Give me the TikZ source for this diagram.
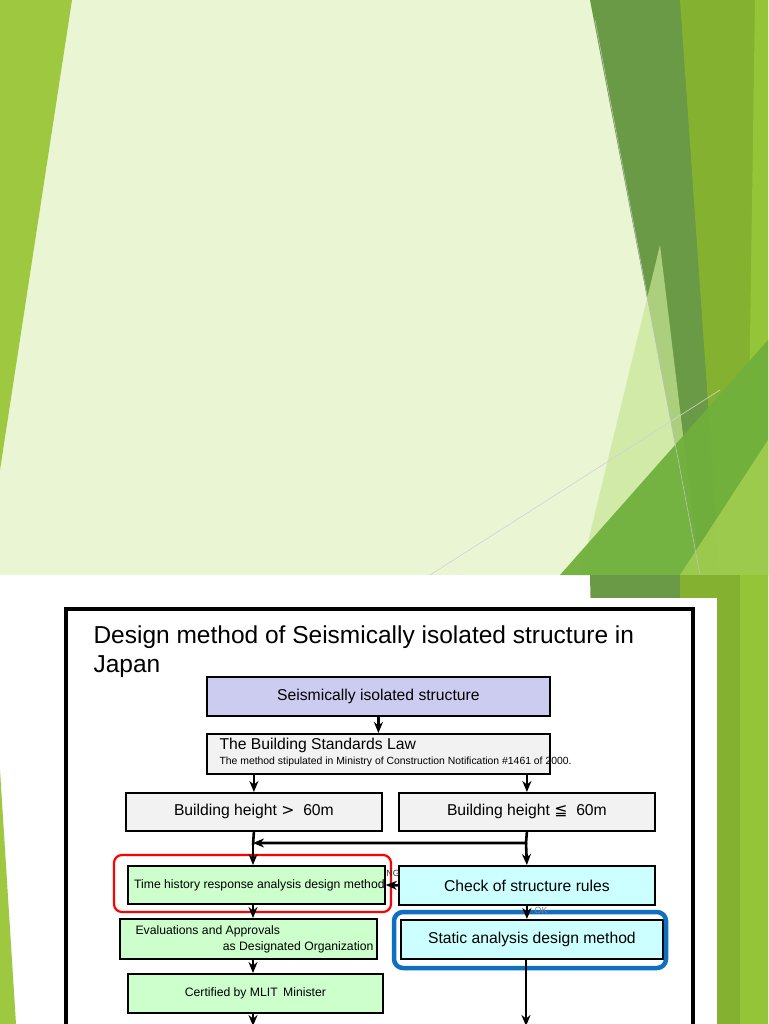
\documentclass[tikz,border=0pt]{standalone}
\usepackage{fontspec}
\setmainfont{Liberation Sans}
\newfontfamily\dv{DejaVu Sans}
\usetikzlibrary{arrows.meta}
\definecolor{bgl}{RGB}{233,245,211}
\definecolor{gA}{RGB}{157,200,64}
\definecolor{gDark}{RGB}{106,154,69}
\definecolor{gMid}{RGB}{132,178,48}
\definecolor{gBr}{RGB}{148,197,56}
\definecolor{gPale}{RGB}{200,230,150}
\definecolor{gTri}{RGB}{112,176,60}
\definecolor{gTri2}{RGB}{160,205,80}
\definecolor{cPur}{RGB}{204,204,240}
\definecolor{cGry}{RGB}{242,242,242}
\definecolor{cGrn}{RGB}{204,255,204}
\definecolor{cCy}{RGB}{204,255,255}
\definecolor{cBlu}{RGB}{16,112,192}
\begin{document}
\begin{tikzpicture}[x=1pt,y=-1pt,
  bx/.style={draw=black,line width=1.8pt,anchor=north west,inner sep=0pt},
  big/.style={font=\fontsize{15.7}{18}\selectfont},
  sml/.style={font=\fontsize{12.2}{14}\selectfont},
  arr/.style={-{Stealth[length=11pt,width=9pt]},line width=2.6pt}]
\useasboundingbox (0,0) rectangle (768,1024);
% background top
\fill[bgl] (0,0) rectangle (768,575);
\fill[white] (0,575) rectangle (768,1024);
\fill[gA] (0,0) -- (72,0) -- (0,470) -- cycle;
\fill[gA] (0,770) -- (16,1024) -- (0,1024) -- cycle;
% right decorations
\fill[gDark] (590,0) -- (690,0) -- (720,575) -- (700,575) -- cycle;
\fill[gMid] (680,0) -- (768,0) -- (768,1024) -- (720,1024) -- (720,575) -- cycle;
\fill[gBr] (755,0) -- (768,0) -- (768,1024) -- (740,1024) -- cycle;
\fill[gPale,opacity=0.7] (660,245) -- (700,575) -- (580,575) -- cycle;
\fill[gTri,opacity=0.95] (560,575) -- (768,340) -- (768,575) -- cycle;
\fill[gTri2,opacity=0.9] (680,575) -- (768,440) -- (768,575) -- cycle;
\draw[gray!50,line width=0.6pt] (595,20) -- (700,575);
\draw[gray!35,line width=0.6pt] (430,575) -- (720,390);
% bottom right strip
\fill[gDark] (590,575) -- (680,575) -- (680,1024) -- (600,1024) -- cycle;
\fill[gMid] (680,575) -- (740,575) -- (740,1024) -- (680,1024) -- cycle;
\fill[gBr] (740,575) -- (768,575) -- (768,1024) -- (740,1024) -- cycle;
\fill[white] (60,598) rectangle (717,1024);
% frame
\draw[line width=3.5pt] (66,1030) -- (66,609) -- (693,609) -- (693,1030);
\node[anchor=west,font=\fontsize{24.5}{29}\selectfont,align=left] (title) at (90,652) {Design method of Seismically isolated structure in\\Japan};
% boxes
\node[bx,fill=cPur,minimum width=343pt,minimum height=39pt,big] (s) at (206,676) {Seismically isolated structure};
\node[bx,fill=cGry,minimum width=343pt,minimum height=40pt] (b) at (206,733) {};
\node[anchor=west,big] (bt) at (216,745) {The Building Standards Law};
\node[anchor=west,font=\fontsize{10.4}{12}\selectfont] (bs) at (216,762) {The method stipulated in Ministry of Construction Notification \#1461 of 2000.};
\node[bx,fill=cGry,minimum width=256pt,minimum height=38pt,big] (h1) at (125,792) {Building height {\dv >}\; 60m};
\node[bx,fill=cGry,minimum width=256pt,minimum height=38pt,big] (h2) at (398,792) {Building height {\dv ≦}\; 60m};
\node[bx,fill=cGrn,minimum width=257pt,minimum height=38pt,sml] (t) at (127,865) {\hspace*{6pt}Time history response analysis design method};
\draw[red,line width=2.2pt,rounded corners=8pt] (114,855) rectangle (391,912);
\node[bx,fill=cCy,minimum width=256pt,minimum height=39pt,big] (c) at (398,865) {Check of structure rules};
\node[bx,fill=cGrn,minimum width=257pt,minimum height=40pt] (e) at (119,918) {};
\node[anchor=west,sml] (e1) at (132,931) {Evaluations and Approvals};
\node[anchor=east,sml] (e2) at (377,947) {as Designated Organization};
\node[bx,fill=cCy,minimum width=262pt,minimum height=39pt,big] (st) at (400,919) {Static analysis design method};
\draw[cBlu,line width=4.5pt,rounded corners=9pt] (394,912) rectangle (666,968);
\node[bx,fill=cGrn,minimum width=255pt,minimum height=39pt,sml] (cm) at (127,973) {Certified by MLIT\, Minister};
% connectors
\draw[arr] (s.south) -- (b.north);
\draw[arr] (b.south -| h1.north) -- (h1.north);
\draw[arr] (b.south -| h2.north) -- (h2.north);
\coordinate (j) at (526,843);
\coordinate (jl) at (253,843);
\draw[arr] (h2.south) -- (j) -- (jl);
\draw[line width=2.6pt] (h1.south) -- (253,845);
\draw[arr] (j) -- (c.north);
\draw[arr] (jl) -- (t.north -| jl);
\draw[arr] (c.west) -- (t.east);
\node[font=\fontsize{9}{10}\selectfont,gray!40!black] (ng) at (393,873) {NG};
\draw[arr] (c.south) -- (c.south |- st.north);
\node[font=\fontsize{9}{10}\selectfont,gray] (ok) at (541,910) {OK};
\draw[arr] (t.south -| jl) -- (e.north -| jl);
\draw[arr] (e.south -| jl) -- (cm.north -| jl);
\coordinate (bl) at (253,1026);
\coordinate (br) at (526,1026);
\draw[arr] (cm.south -| jl) -- (bl);
\draw[arr] (st.south -| j) -- (br);
\end{tikzpicture}
\end{document}
